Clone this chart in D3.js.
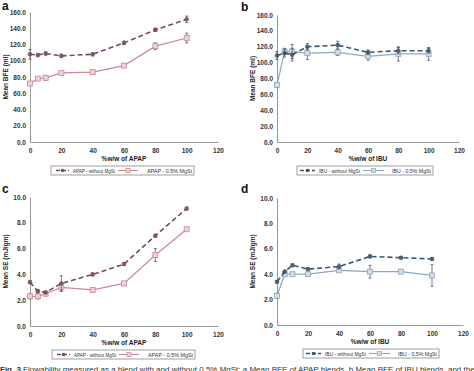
<!DOCTYPE html>
<html>
<head>
<meta charset="utf-8">
<script src="https://cdn.jsdelivr.net/npm/d3@7.9.0/dist/d3.min.js"></script>
<style>
  body { margin: 0; background: #fff; }
  svg { display: block; font-family: 'Liberation Sans', 'DejaVu Sans', sans-serif; }
  .tick text { fill: #333; font-weight: bold; }
</style>
</head>
<body>
<svg id="chart" width="474" height="371"></svg>
<script>
// % w/w of drug in blend
const xPct = [0, 5, 10, 20, 40, 60, 80, 100];
const xTicks = [0, 20, 40, 60, 80, 100, 120];

// mean BFE (ml)
const apapBfeNo = [108, 107, 109, 106, 108, 122, 138, 151];
const apapBfeNoErr = [6, 2, 2, 2, 2, 2, 2, 4];
const apapBfeMg = [72, 78, 79, 85, 86, 94, 118, 128];
const apapBfeMgErr = [2, 2, 3, 2, 2, 2, 4, 6];
const ibuBfeNo = [109, 112, 110, 120, 122, 113, 115, 115];
const ibuBfeNoErr = [5, 5, 8, 4, 5, 3, 4, 3];
const ibuBfeMg = [72, 114, 114, 112, 113, 108, 111, 111];
const ibuBfeMgErr = [3, 4, 9, 8, 4, 5, 9, 8];
const bfeTicks = [0, 20, 40, 60, 80, 100, 120, 140, 160];

// mean SE (mJ/gm)
const apapSeNo = [3.4, 2.7, 2.6, 3.3, 4.0, 4.8, 7.0, 9.1];
const apapSeNoErr = [0.1, 0.1, 0.1, 0.6, 0.1, 0.1, 0.1, 0.1];
const apapSeMg = [2.3, 2.3, 2.5, 3.0, 2.8, 3.3, 5.5, 7.5];
const apapSeMgErr = [0.2, 0.2, 0.1, 0.3, 0.1, 0.1, 0.5, 0.1];
const ibuSeNo = [3.4, 4.2, 4.7, 4.4, 4.6, 5.4, 5.3, 5.2];
const ibuSeNoErr = [0.1, 0.1, 0.1, 0.1, 0.2, 0.1, 0.1, 0.1];
const ibuSeMg = [2.3, 4.0, 4.0, 4.0, 4.3, 4.2, 4.2, 3.9];
const ibuSeMgErr = [0.2, 0.1, 0.1, 0.1, 0.1, 0.5, 0.1, 0.85];
const seTicks = [0, 2, 4, 6, 8, 10];

const apapColors = { no: '#7a4c58', mg: '#c98a91', mgFill: '#ecd3d6' };
const ibuColors = { no: '#3d5670', mg: '#8ea6c2', mgFill: '#d3dde9' };

const svg = d3.select('#chart');

function drawPanel(cfg) {
  const g = svg.append('g');
  const x = d3.scaleLinear().domain([0, 120]).range([cfg.left, cfg.right]);
  const y = d3.scaleLinear().domain([0, cfg.yMax]).range([cfg.bottom, cfg.top]);

  const yAxis = d3.axisLeft(y).tickValues(cfg.yTicks).tickSize(0).tickPadding(4)
    .tickFormat(d3.format('.1f'));
  g.append('g').attr('transform', `translate(${cfg.left},0)`).call(yAxis)
    .call((s) => s.select('.domain').attr('stroke', '#999'))
    .selectAll('text').style('font-size', '6.5px');

  const xAxis = d3.axisBottom(x).tickValues(xTicks).tickSize(0).tickPadding(6);
  g.append('g').attr('transform', `translate(0,${cfg.bottom})`).call(xAxis)
    .call((s) => s.select('.domain').attr('stroke', '#999'))
    .selectAll('text').style('font-size', '6.5px');

  // axis titles
  g.append('text')
    .attr('transform', `translate(${cfg.left - 22},${(cfg.top + cfg.bottom) / 2}) rotate(-90)`)
    .attr('text-anchor', 'middle').attr('font-size', 6.5).attr('font-weight', 'bold')
    .attr('fill', '#222').text(cfg.yTitle);
  g.append('text')
    .attr('x', (x(0) + x(120)) / 2).attr('y', cfg.bottom + 19)
    .attr('text-anchor', 'middle').attr('font-size', 6.5).attr('font-weight', 'bold')
    .attr('fill', '#222').text(cfg.xTitle);

  // panel letter
  g.append('text').attr('x', cfg.letterX).attr('y', cfg.letterY)
    .attr('font-size', 12).attr('font-weight', 'bold').attr('fill', '#111')
    .text(cfg.letter);

  const series = [
    { vals: cfg.mg, err: cfg.mgErr, color: cfg.colors.mg, dash: null, shape: 'square' },
    { vals: cfg.no, err: cfg.noErr, color: cfg.colors.no, dash: '5,3', shape: 'circle' },
  ];

  series.forEach((s) => {
    const pts = xPct.map((p, i) => ({ p, v: s.vals[i], e: s.err[i] }));
    g.append('path').datum(pts)
      .attr('fill', 'none').attr('stroke', s.color)
      .attr('stroke-width', s.dash ? 1.6 : 1.2)
      .attr('stroke-dasharray', s.dash)
      .attr('d', d3.line().x((d) => x(d.p)).y((d) => y(d.v)));

    const eb = g.append('g').attr('stroke', '#444').attr('stroke-width', 0.7);
    eb.selectAll('line.v').data(pts).join('line').attr('class', 'v')
      .attr('x1', (d) => x(d.p)).attr('x2', (d) => x(d.p))
      .attr('y1', (d) => y(d.v - d.e)).attr('y2', (d) => y(d.v + d.e));
    eb.selectAll('line.t').data(pts).join('line').attr('class', 't')
      .attr('x1', (d) => x(d.p) - 1.5).attr('x2', (d) => x(d.p) + 1.5)
      .attr('y1', (d) => y(d.v + d.e)).attr('y2', (d) => y(d.v + d.e));
    eb.selectAll('line.b').data(pts).join('line').attr('class', 'b')
      .attr('x1', (d) => x(d.p) - 1.5).attr('x2', (d) => x(d.p) + 1.5)
      .attr('y1', (d) => y(d.v - d.e)).attr('y2', (d) => y(d.v - d.e));

    if (s.shape === 'square') {
      g.selectAll(null).data(pts).join('rect')
        .attr('x', (d) => x(d.p) - 2.5).attr('y', (d) => y(d.v) - 2.5)
        .attr('width', 5).attr('height', 5)
        .attr('fill', cfg.colors.mgFill).attr('stroke', s.color).attr('stroke-width', 0.8);
    } else {
      g.selectAll(null).data(pts).join('circle')
        .attr('cx', (d) => x(d.p)).attr('cy', (d) => y(d.v)).attr('r', 2.3)
        .attr('fill', s.color).attr('fill-opacity', 0.85);
    }
  });

  // legend
  const L = cfg.leg;
  const lg = g.append('g').attr('transform', `translate(${L.x},${cfg.bottom + 24})`);
  lg.append('rect').attr('width', L.w).attr('height', 9)
    .attr('fill', '#fff').attr('stroke', '#777').attr('stroke-width', 0.7);
  lg.append('line').attr('x1', L.line1[0]).attr('x2', L.line1[1]).attr('y1', 4.5).attr('y2', 4.5)
    .attr('stroke', cfg.colors.no).attr('stroke-width', 1.4).attr('stroke-dasharray', '4,2');
  lg.append('circle').attr('cx', (L.line1[0] + L.line1[1]) / 2).attr('cy', 4.5).attr('r', 1.8)
    .attr('fill', cfg.colors.no);
  lg.append('text').attr('x', L.text1[0]).attr('y', 6.6).attr('font-size', 5.8).attr('fill', '#333')
    .attr('textLength', L.text1[1] - L.text1[0]).attr('lengthAdjust', 'spacingAndGlyphs')
    .text(cfg.legNo);
  lg.append('line').attr('x1', L.line2[0]).attr('x2', L.line2[1]).attr('y1', 4.5).attr('y2', 4.5)
    .attr('stroke', cfg.colors.mg).attr('stroke-width', 1.1);
  const mx = (L.line2[0] + L.line2[1]) / 2;
  lg.append('rect').attr('x', mx - 2).attr('y', 2.5).attr('width', 4).attr('height', 4)
    .attr('fill', cfg.colors.mgFill).attr('stroke', cfg.colors.mg).attr('stroke-width', 0.7);
  lg.append('text').attr('x', L.text2[0]).attr('y', 6.6).attr('font-size', 5.8).attr('fill', '#333')
    .attr('textLength', L.text2[1] - L.text2[0]).attr('lengthAdjust', 'spacingAndGlyphs')
    .text(cfg.legMg);
}

const apapLeg = { w: 143, line1: [5, 18], text1: [22, 64], line2: [67, 87], text2: [96, 141] };
const ibuLeg = { w: 136, line1: [3, 18], text1: [22, 63], line2: [66, 87], text2: [95, 134] };

drawPanel({
  letter: 'a', letterX: 2, letterY: 10,
  left: 30, right: 218, top: 12, bottom: 142, yMax: 160, yTicks: bfeTicks,
  yTitle: 'Mean BFE (ml)', xTitle: '%w/w of APAP',
  no: apapBfeNo, noErr: apapBfeNoErr, mg: apapBfeMg, mgErr: apapBfeMgErr,
  colors: apapColors,
  leg: { ...apapLeg, x: 51 },
  legNo: 'APAP - without MgSt', legMg: 'APAP - 0.5% MgSt',
});

drawPanel({
  letter: 'b', letterX: 241, letterY: 11,
  left: 277, right: 459, top: 15, bottom: 142, yMax: 160, yTicks: bfeTicks,
  yTitle: 'Mean BFE (ml)', xTitle: '%w/w of IBU',
  no: ibuBfeNo, noErr: ibuBfeNoErr, mg: ibuBfeMg, mgErr: ibuBfeMgErr,
  colors: ibuColors,
  leg: { ...ibuLeg, x: 297 },
  legNo: 'IBU - without MgSt', legMg: 'IBU - 0.5% MgSt',
});

drawPanel({
  letter: 'c', letterX: 2, letterY: 193,
  left: 30, right: 218, top: 197, bottom: 326, yMax: 10, yTicks: seTicks,
  yTitle: 'Mean SE (mJ/gm)', xTitle: '%w/w of APAP',
  no: apapSeNo, noErr: apapSeNoErr, mg: apapSeMg, mgErr: apapSeMgErr,
  colors: apapColors,
  leg: { ...apapLeg, x: 52 },
  legNo: 'APAP - without MgSt', legMg: 'APAP - 0.5% MgSt',
});

drawPanel({
  letter: 'd', letterX: 241, letterY: 193,
  left: 277, right: 463, top: 198, bottom: 325, yMax: 10, yTicks: seTicks,
  yTitle: 'Mean SE (mJ/gm)', xTitle: '%w/w of IBU',
  no: ibuSeNo, noErr: ibuSeNoErr, mg: ibuSeMg, mgErr: ibuSeMgErr,
  colors: ibuColors,
  leg: { ...ibuLeg, x: 303 },
  legNo: 'IBU - without MgSt', legMg: 'IBU - 0.5% MgSt',
});

// caption, cut off at the bottom of the picture as in the source
svg.append('text').attr('x', 0).attr('y', 372).attr('font-size', 8).attr('fill', '#333')
  .html('<tspan font-weight="bold">Fig. 3</tspan> Flowability measured as a blend with and without 0.5% MgSt: a Mean BFE of APAP blends, b Mean BFE of IBU blends, and the');
</script>
</body>
</html>
